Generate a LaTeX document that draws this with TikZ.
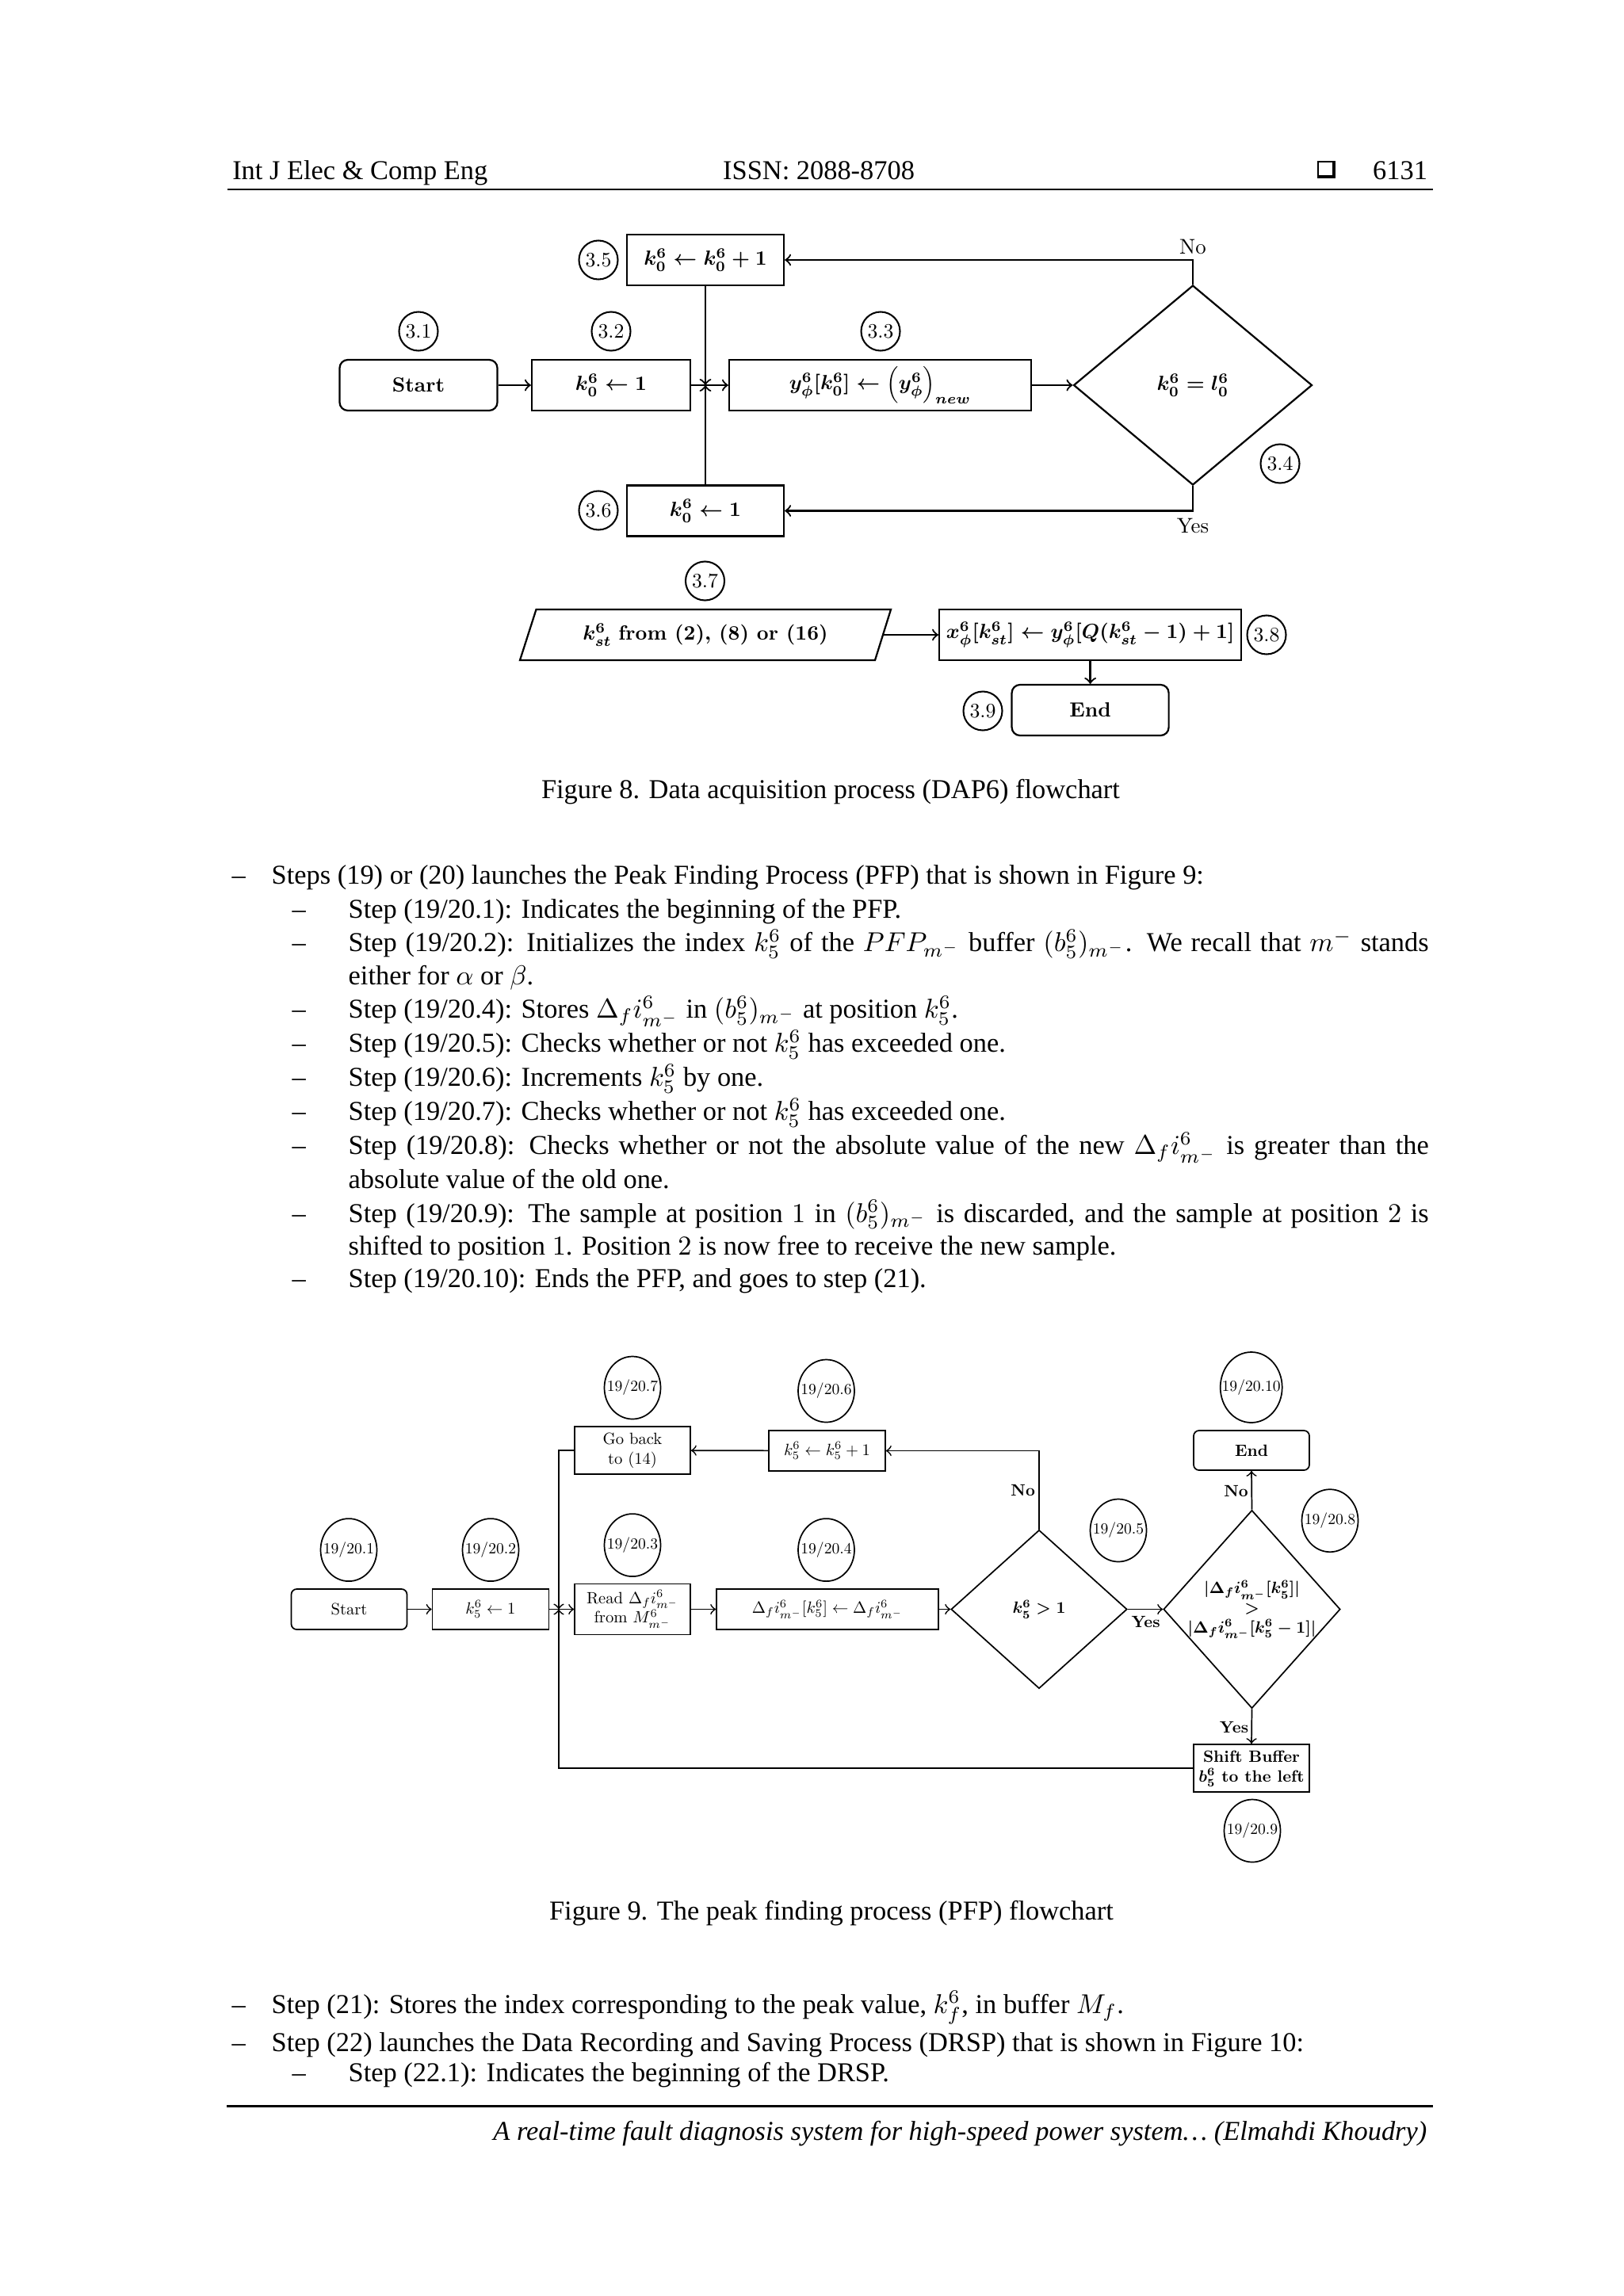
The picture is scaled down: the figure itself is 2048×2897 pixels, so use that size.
\documentclass[tikz,border=0pt]{standalone}
\usepackage{amsmath,amssymb}
\usepackage{graphicx}
\usepackage{fontspec}
\usetikzlibrary{shapes.geometric}
\newfontfamily\tnr{Liberation Serif}
\def\pxu{0.29066pt}
\newcommand\zw[1]{\makebox[0pt]{#1}}
\newcommand\ctab[1]{\begin{tabular}{@{}c@{}}#1\end{tabular}}
\newcommand\jline[1]{\makebox[396.2pt][s]{#1}}
\newcommand\ta[1]{\scalebox{0.75}{#1}}
\newcommand\tb[1]{\scalebox{0.6}{#1}}
\newcommand\tc[1]{\scalebox{0.57}{#1}}
\begin{document}
\begin{tikzpicture}[x=0.29066pt,y=-0.29066pt,
  txt/.style={anchor=base west, inner sep=0pt, font=\tnr\fontsize{10}{12}\selectfont},
  b8/.style={draw, line width=0.65pt, inner sep=0pt, minimum height=64*\pxu, font=\fontsize{10}{12}\selectfont},
  n8/.style={draw, circle, line width=0.6pt, inner sep=0pt, minimum size=49*\pxu, font=\fontsize{10}{12}\selectfont},
  a8/.style={->, line width=0.65pt},
  l8/.style={inner sep=0pt, font=\fontsize{10}{12}\selectfont},
  b9/.style={draw, line width=0.5pt, inner sep=0pt, minimum height=51*\pxu, minimum width=146*\pxu, font=\fontsize{10}{12}\selectfont},
  n9/.style={draw, ellipse, line width=0.5pt, inner sep=0pt, minimum width=71*\pxu, minimum height=79*\pxu, font=\fontsize{10}{12}\selectfont},
  a9/.style={->, line width=0.5pt},
  l9/.style={inner sep=0pt, font=\bfseries\fontsize{10}{12}\selectfont}]
\useasboundingbox (0,0) rectangle (2048,2897);
\fill[white] (0,0) rectangle (2048,2897);

% ---------- header ----------
\node[txt] (h1) at (292.6,226) {Int J Elec \& Comp Eng};
\node[txt] (h2) at (911.5,226) {ISSN: 2088-8708};
\node[txt, anchor=base east] (h3) at (1801.7,226) {6131};
\fill (1661.7,203.3) rectangle (1685,225);
\fill[white] (1663.6,205.2) rectangle (1680.6,220.6);
\draw[line width=0.65pt] (287,239.3) -- (1808,239.3);

% ---------- Figure 8 ----------
\node[b8, rounded corners=3pt, minimum width=199*\pxu] (s8) at (528,486) {\ta{\textbf{Start}}};
\node[b8, minimum width=200*\pxu] (i8) at (771,486) {\ta{$\boldsymbol{k_0^6\leftarrow 1}$}};
\node[b8, minimum width=381*\pxu] (y8) at (1110.5,486) {\ta{$\boldsymbol{y_\phi^6[k_0^6]\leftarrow\left(y_\phi^6\right)_{new}}$}};
\node[b8, diamond, minimum width=301*\pxu, minimum height=252*\pxu] (d8) at (1505,486) {\zw{\ta{$\boldsymbol{k_0^6=l_0^6}$}}};
\node[b8, minimum width=198*\pxu] (p8) at (890,328) {\ta{$\boldsymbol{k_0^6\leftarrow k_0^6+1}$}};
\node[b8, minimum width=198*\pxu] (r8) at (890,644.5) {\ta{$\boldsymbol{k_0^6\leftarrow 1}$}};

\node[n8] (c31) at (528,418) {\ta{3.1}};
\node[n8] (c32) at (771,418) {\ta{3.2}};
\node[n8] (c33) at (1111,418) {\ta{3.3}};
\node[n8] (c34) at (1615,585) {\ta{3.4}};
\node[n8] (c35) at (755,328) {\ta{3.5}};
\node[n8] (c36) at (755,644) {\ta{3.6}};
\node[n8] (c37) at (889.5,733) {\ta{3.7}};
\node[n8] (c38) at (1598,801) {\ta{3.8}};
\node[n8] (c39) at (1240,897) {\ta{3.9}};

\coordinate (j8) at (890,486);
\draw[a8] (s8) -- (i8);
\draw[a8] (i8) -- (y8);
\draw[a8] (p8) -- (j8);
\draw[a8] (r8) -- (j8);
\draw[a8] (y8) -- (d8);
\draw[a8] (d8.north) |- (p8.east);
\draw[a8] (d8.south) |- (r8.east);
\node[l8] (no8) at (1505,311) {\scalebox{0.78}{No}};
\node[l8] (yes8) at (1505,663) {\scalebox{0.78}{Yes}};

\node[inner sep=0pt, font=\fontsize{10}{12}\selectfont] (in8) at (890,801) {\ta{$\boldsymbol{k_{st}^6}$ \textbf{from (2), (8) or (16)}}};
\draw[line width=0.65pt] (676.5,769) -- (1124,769) -- (1104,833) -- (656,833) -- cycle;
\coordinate (in8r) at (1114,801);
\node[b8, minimum width=381*\pxu] (x8) at (1375.6,801) {\ta{$\boldsymbol{x_\phi^6[k_{st}^6]\leftarrow y_\phi^6[Q(k_{st}^6-1)+1]}$}};
\node[b8, rounded corners=3pt, minimum width=198*\pxu] (e8) at (1375.6,896) {\ta{\textbf{End}}};
\draw[a8] (in8r) -- (x8);
\draw[a8] (x8) -- (e8);

\node[txt, anchor=base] (cap8) at (1048,1007) {Figure 8. Data acquisition process (DAP6) flowchart};

% ---------- body text ----------
\node[txt] (d0) at (292,1115.7) {–};
\node[txt] (t0) at (342,1115.7) {Steps (19) or (20) launches the Peak Finding Process (PFP) that is shown in Figure 9:};
\node[txt] (d1) at (368,1158.3) {–};
\node[txt] (t1) at (439,1158.3) {Step (19/20.1): Indicates the beginning of the PFP.};
\node[txt] (d2) at (368,1200.5) {–};
\node[txt] (t2) at (439,1200.5) {\jline{Step (19/20.2): Initializes the index $k_5^6$ of the $PFP_{m^-}$ buffer $(b_5^6)_{m^-}$. We recall that $m^-$ stands}};
\node[txt] (t3) at (439,1242) {either for $\alpha$ or $\beta$.};
\node[txt] (d4) at (368,1284.5) {–};
\node[txt] (t4) at (439,1284.5) {Step (19/20.4): Stores $\Delta_f i_{m^-}^6$ in $(b_5^6)_{m^-}$ at position $k_5^6$.};
\node[txt] (d5) at (368,1327.5) {–};
\node[txt] (t5) at (439,1327.5) {Step (19/20.5): Checks whether or not $k_5^6$ has exceeded one.};
\node[txt] (d6) at (368,1370.5) {–};
\node[txt] (t6) at (439,1370.5) {Step (19/20.6): Increments $k_5^6$ by one.};
\node[txt] (d7) at (368,1413.5) {–};
\node[txt] (t7) at (439,1413.5) {Step (19/20.7): Checks whether or not $k_5^6$ has exceeded one.};
\node[txt] (d8x) at (368,1456.5) {–};
\node[txt] (t8) at (439,1456.5) {\jline{Step (19/20.8): Checks whether or not the absolute value of the new $\Delta_f i_{m^-}^6$ is greater than the}};
\node[txt] (t9) at (439,1499) {absolute value of the old one.};
\node[txt] (d10) at (368,1542) {–};
\node[txt] (t10) at (439,1542) {\jline{Step (19/20.9): The sample at position $1$ in $(b_5^6)_{m^-}$ is discarded, and the sample at position $2$ is}};
\node[txt] (t11) at (439,1583.6) {shifted to position $1$. Position $2$ is now free to receive the new sample.};
\node[txt] (d12) at (368,1624.6) {–};
\node[txt] (t12) at (439,1624.6) {Step (19/20.10): Ends the PFP, and goes to step (21).};

% ---------- Figure 9 ----------
\node[b9, rounded corners=2pt] (s9) at (440.5,2030.5) {\tb{Start}};
\node[b9, minimum width=147*\pxu] (i9) at (619,2030.5) {\tb{$k_5^6\leftarrow 1$}};
\node[b9, minimum height=64*\pxu] (rd9) at (798,2030.5) {\tb{\ctab{Read $\Delta_f i^6_{m^-}$\\from $M^6_{m^-}$}}};
\node[b9, minimum width=280*\pxu] (st9) at (1044,2030.5) {\tb{$\Delta_f i^6_{m^-}[k_5^6]\leftarrow\Delta_f i^6_{m^-}$}};
\node[b9, diamond, minimum width=222*\pxu, minimum height=200*\pxu] (d91) at (1311,2030.5) {\zw{\tb{$\boldsymbol{k_5^6>1}$}}};
\node[b9, diamond, minimum width=223*\pxu, minimum height=250*\pxu] (d92) at (1579.5,2030.5) {\zw{\tb{\ctab{$\boldsymbol{|\Delta_f i^6_{m^-}[k_5^6]|}$\\$\boldsymbol{>}$\\$\boldsymbol{|\Delta_f i^6_{m^-}[k_5^6-1]|}$}}}};
\node[b9, minimum height=60*\pxu] (gb9) at (798,1830) {\tb{\ctab{Go back\\to (14)}}};
\node[b9, minimum width=147*\pxu] (inc9) at (1043.5,1830.5) {\tb{$k_5^6\leftarrow k_5^6+1$}};
\node[b9, rounded corners=2pt, minimum height=50*\pxu] (e9) at (1579,1830) {\tb{\textbf{End}}};
\node[b9, minimum height=60*\pxu] (sh9) at (1579,2231) {\tb{\bfseries\ctab{Shift Buffer\\$\boldsymbol{b_5^6}$ to the left}}};

\node[n9] (c191) at (440,1955.6) {\zw{\tc{19/20.1}}};
\node[n9] (c192) at (619,1955.6) {\zw{\tc{19/20.2}}};
\node[n9] (c193) at (798,1949.6) {\zw{\tc{19/20.3}}};
\node[n9] (c194) at (1042.5,1955.6) {\zw{\tc{19/20.4}}};
\node[n9] (c195) at (1411,1931) {\zw{\tc{19/20.5}}};
\node[n9] (c196) at (1042.5,1755) {\zw{\tc{19/20.6}}};
\node[n9] (c197) at (798,1751) {\zw{\tc{19/20.7}}};
\node[n9] (c198) at (1678,1918.7) {\zw{\tc{19/20.8}}};
\node[n9] (c199) at (1580,2310) {\zw{\tc{19/20.9}}};
\node[n9, minimum width=78*\pxu, minimum height=89*\pxu] (c1910) at (1578.7,1750.5) {\zw{\tc{19/20.10}}};

\coordinate (j9) at (705,2030.5);
\draw[a9] (s9) -- (i9);
\draw[a9] (i9) -- (rd9);
\draw[a9] (gb9.west) -| (j9);
\draw[a9] (sh9.west) -| (j9);
\draw[a9] (rd9) -- (st9);
\draw[a9] (st9) -- (d91);
\draw[a9] (d91.north) |- (inc9.east);
\draw[a9] (inc9) -- (gb9);
\draw[a9] (d91) -- (d92);
\draw[a9] (d92.north) -- (e9.south);
\draw[a9] (d92.south) -- (sh9.north);
\node[l9] (no91) at (1290.7,1880) {\tb{No}};
\node[l9] (no92) at (1559.5,1881) {\tb{No}};
\node[l9] (yes91) at (1445.6,2046) {\tb{Yes}};
\node[l9] (yes92) at (1557,2179) {\tb{Yes}};

\node[txt, anchor=base] (cap9) at (1049,2422) {Figure 9. The peak finding process (PFP) flowchart};

% ---------- text after figure 9 ----------
\node[txt] (d13) at (292,2540) {–};
\node[txt] (t13) at (342,2540) {Step (21): Stores the index corresponding to the peak value, $k_f^6$, in buffer $M_f$.};
\node[txt] (d14) at (292,2588) {–};
\node[txt] (t14) at (342,2588) {Step (22) launches the Data Recording and Saving Process (DRSP) that is shown in Figure 10:};
\node[txt] (d15) at (368,2626.7) {–};
\node[txt] (t15) at (439,2626.7) {Step (22.1): Indicates the beginning of the DRSP.};

% ---------- footer ----------
\draw[line width=0.85pt] (286,2657.7) -- (1808,2657.7);
\node[txt, anchor=base east, font=\tnr\itshape\fontsize{10}{12}\selectfont] (ft) at (1801,2700) {A real-time fault diagnosis system for high-speed power system… (Elmahdi Khoudry)};
\end{tikzpicture}
\end{document}
